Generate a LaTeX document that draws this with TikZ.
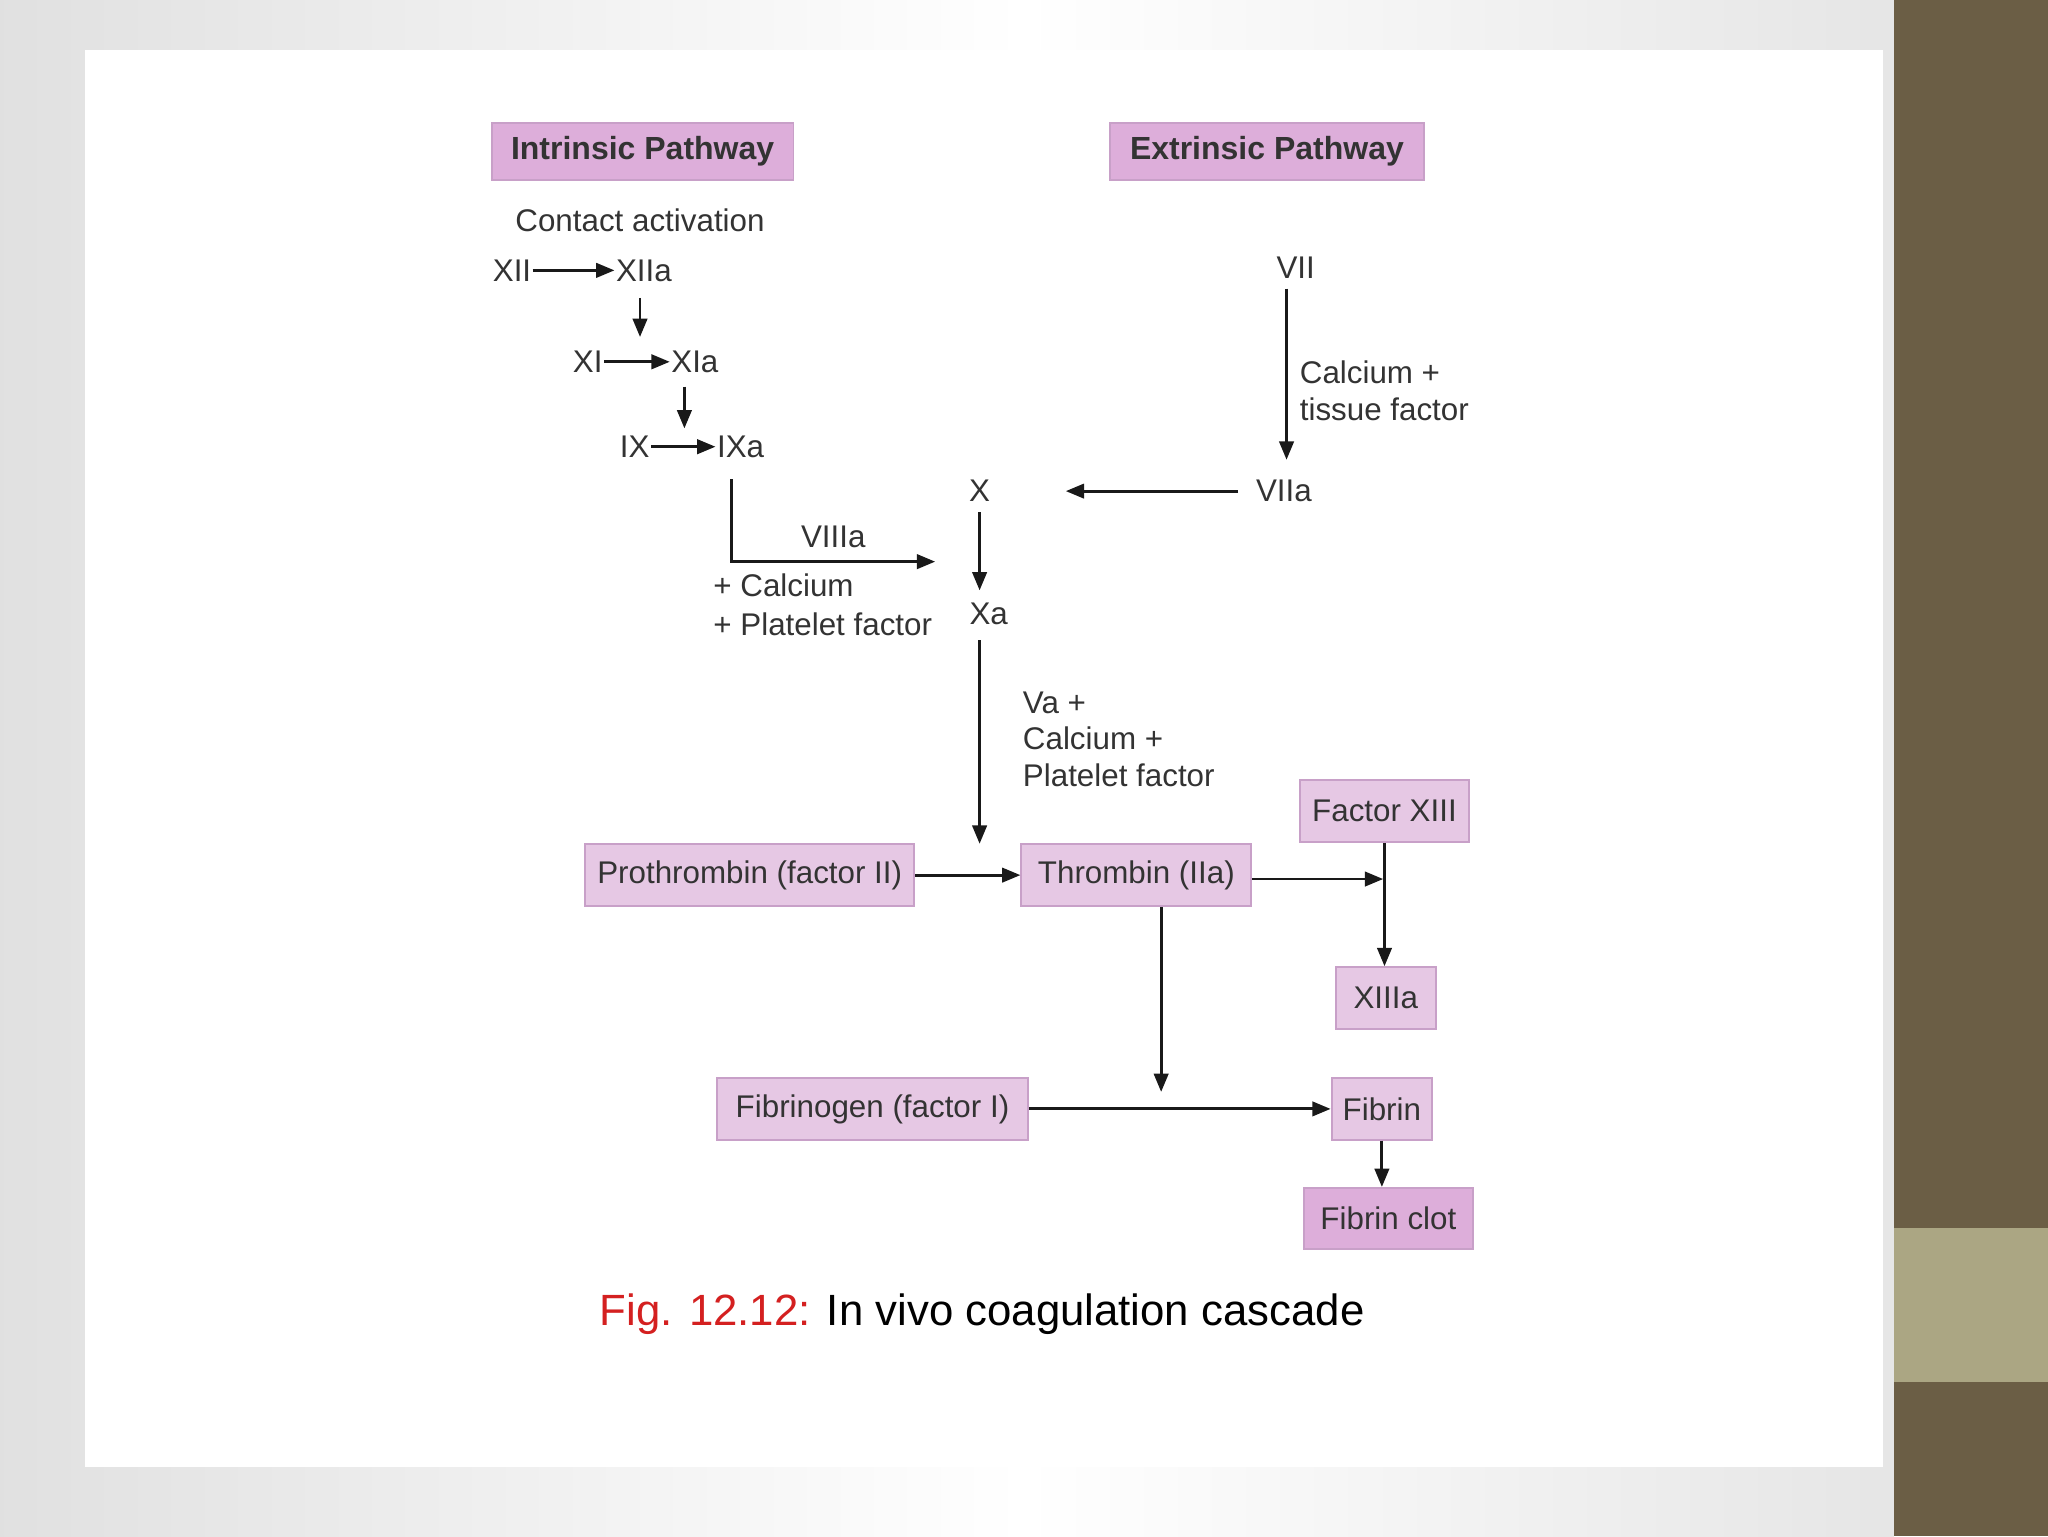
\documentclass[tikz,border=0pt]{standalone}
\usepackage{fontspec}
\setmainfont{Liberation Sans}
\usetikzlibrary{arrows.meta}
\definecolor{boxfill}{HTML}{E6C8E4}
\definecolor{boxline}{HTML}{C8A0C8}
\definecolor{headfill}{HTML}{DDAEDA}
\definecolor{brownbar}{HTML}{6B5E45}
\definecolor{olivebar}{HTML}{ABA683}
\definecolor{txt}{HTML}{333333}
\definecolor{figred}{HTML}{D42020}
\tikzset{
  lbl/.style={text=txt,font=\fontsize{24}{28}\selectfont,inner sep=1pt},
  box/.style={draw=boxline,line width=1.5pt,fill=boxfill,text=txt,font=\fontsize{24}{28}\selectfont,minimum height=47pt,inner sep=0pt},
  head/.style={box,fill=headfill,minimum height=44pt,font=\bfseries\fontsize{24.5}{28}\selectfont},
  arr/.style={line width=2.2pt,-{Triangle[length=14pt,width=11pt]},color=black!90}
}
\begin{document}
\begin{tikzpicture}[x=1pt,y=-1pt]
\useasboundingbox (0,0) rectangle (1568,1176);
\shade[left color=black!12,right color=white] (0,0) rectangle (784,1176);
\shade[left color=white,right color=black!10] (784,0) rectangle (1450,1176);
\fill[white] (65,38) rectangle (1442,1123);
\fill[brownbar] (1450,0) rectangle (1568,1176);
\fill[olivebar] (1450,940) rectangle (1568,1058);
% headers
\node[head,minimum width=231pt] (intr) at (492,116) {Intrinsic Pathway};
\node[head,minimum width=241pt] (extr) at (970,116) {Extrinsic Pathway};
\node[lbl] (contact) at (490,169) {Contact activation};
% intrinsic
\node[lbl] (xii) at (392,207) {XII};
\node[lbl] (xiia) at (493,207) {XIIa};
\node[lbl] (xi) at (450,277) {XI};
\node[lbl] (xia) at (532,277) {XIa};
\node[lbl] (ix) at (486,342) {IX};
\node[lbl] (ixa) at (567,342) {IXa};
\draw[arr] (xii.east) -- (xiia.west);
\draw[arr] (xi.east) -- (xia.west);
\draw[arr] (ix.east) -- (ixa.west);
\coordinate (c1) at (490,228); \coordinate (c2) at (490,258);
\draw[arr] (c1) -- (c2);
\coordinate (c3) at (524,296); \coordinate (c4) at (524,328);
\draw[arr] (c3) -- (c4);
\coordinate (v1) at (560,367); \coordinate (v2) at (560,430); \coordinate (v3) at (716,430);
\draw[arr] (v1) -- (v2) -- (v3);
\node[lbl] (viiia) at (638,411) {VIIIa};
\node[lbl,anchor=west] (pc) at (545,448) {+ Calcium};
\node[lbl,anchor=west] (ppf) at (545,478) {+ Platelet factor};
% X
\node[lbl] (x) at (750,376) {X};
\node[lbl] (xa) at (757,470) {Xa};
\coordinate (x1) at (750,392); \coordinate (x2) at (750,452);
\draw[arr] (x1) -- (x2);
% extrinsic
\node[lbl] (vii) at (992,205) {VII};
\node[lbl] (viia) at (983,376) {VIIa};
\coordinate (e1) at (985,221); \coordinate (e2) at (985,352);
\draw[arr] (e1) -- (e2);
\node[lbl,anchor=west,align=left] (ctf) at (994,299) {Calcium +\\tissue factor};
\coordinate (e3) at (948,376); \coordinate (e4) at (816,376);
\draw[arr] (e3) -- (e4);
% common
\node[lbl,anchor=west,align=left] (va) at (782,566) {Va +\\Calcium +\\Platelet factor};
\node[box,minimum width=252pt] (proth) at (574,670) {Prothrombin (factor II)};
\node[box,minimum width=176pt] (thr) at (870,670) {Thrombin (IIa)};
\node[box,minimum width=130pt] (f13) at (1060,621) {Factor XIII};
\node[box,minimum width=77pt] (f13a) at (1061,764) {XIIIa};
\node[box,minimum width=238pt] (fbg) at (668,849) {Fibrinogen (factor I)};
\node[box,minimum width=77pt] (fib) at (1058,849) {Fibrin};
\node[box,fill=headfill,minimum width=129pt] (clot) at (1063,933) {Fibrin clot};
\coordinate (x3) at (750,490); \coordinate (x4) at (750,646);
\draw[arr] (x3) -- (x4);
\draw[arr] (proth.east) -- (thr.west);
\coordinate (t1) at (1059,673);
\draw[arr] (thr.east |- t1) -- (t1);
\draw[arr] (f13.south) -- (f13.south |- f13a.north);
\coordinate (t2) at (889,836);
\draw[arr] (thr.south -| t2) -- (t2);
\draw[arr] (fbg.east) -- (fib.west);
\draw[arr] (fib.south) -- (fib.south |- clot.north);
% caption
\node[font=\fontsize{33.5}{38}\selectfont,inner sep=0pt] (cap) at (752,1006) {\textcolor{figred}{Fig. 12.12:} In vivo coagulation cascade};
\end{tikzpicture}
\end{document}
